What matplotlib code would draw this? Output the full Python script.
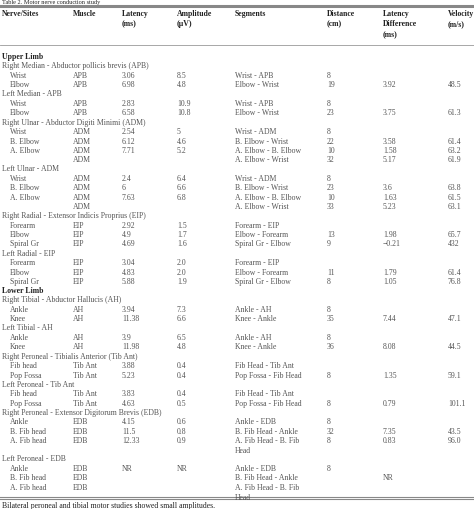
import matplotlib.pyplot as plt

# table contents, one entry per printed line
# (kind, site, muscle, latency, amplitude, segment, distance, lat_diff, velocity)
rows = [
    ("limb", "Upper Limb"),
    ("nerve", "Right Median - Abductor pollicis brevis (APB)"),
    ("site", "Wrist", "APB", "3.06", "8.5", "Wrist - APB", "8", "", ""),
    ("site", "Elbow", "APB", "6.98", "4.8", "Elbow - Wrist", "19", "3.92", "48.5"),
    ("nerve", "Left Median - APB"),
    ("site", "Wrist", "APB", "2.83", "10.9", "Wrist - APB", "8", "", ""),
    ("site", "Elbow", "APB", "6.58", "10.8", "Elbow - Wrist", "23", "3.75", "61.3"),
    ("nerve", "Right Ulnar - Abductor Digiti Minimi (ADM)"),
    ("site", "Wrist", "ADM", "2.54", "5", "Wrist - ADM", "8", "", ""),
    ("site", "B. Elbow", "ADM", "6.12", "4.6", "B. Elbow - Wrist", "22", "3.58", "61.4"),
    ("site", "A. Elbow", "ADM", "7.71", "5.2", "A. Elbow - B. Elbow", "10", "1.58", "63.2"),
    ("site", "", "ADM", "", "", "A. Elbow - Wrist", "32", "5.17", "61.9"),
    ("nerve", "Left Ulnar - ADM"),
    ("site", "Wrist", "ADM", "2.4", "6.4", "Wrist - ADM", "8", "", ""),
    ("site", "B. Elbow", "ADM", "6", "6.6", "B. Elbow - Wrist", "23", "3.6", "63.8"),
    ("site", "A. Elbow", "ADM", "7.63", "6.8", "A. Elbow - B. Elbow", "10", "1.63", "61.5"),
    ("site", "", "ADM", "", "", "A. Elbow - Wrist", "33", "5.23", "63.1"),
    ("nerve", "Right Radial - Extensor Indicis Proprius (EIP)"),
    ("site", "Forearm", "EIP", "2.92", "1.5", "Forearm - EIP", "", "", ""),
    ("site", "Elbow", "EIP", "4.9", "1.7", "Elbow - Forearm", "13", "1.98", "65.7"),
    ("site", "Spiral Gr", "EIP", "4.69", "1.6", "Spiral Gr - Elbow", "9", "\u22120.21", "432"),
    ("nerve", "Left Radial - EIP"),
    ("site", "Forearm", "EIP", "3.04", "2.0", "Forearm - EIP", "", "", ""),
    ("site", "Elbow", "EIP", "4.83", "2.0", "Elbow - Forearm", "11", "1.79", "61.4"),
    ("site", "Spiral Gr", "EIP", "5.88", "1.9", "Spiral Gr - Elbow", "8", "1.05", "76.8"),
    ("limb", "Lower Limb"),
    ("nerve", "Right Tibial - Abductor Hallucis (AH)"),
    ("site", "Ankle", "AH", "3.94", "7.3", "Ankle - AH", "8", "", ""),
    ("site", "Knee", "AH", "11.38", "6.6", "Knee - Ankle", "35", "7.44", "47.1"),
    ("nerve", "Left Tibial - AH"),
    ("site", "Ankle", "AH", "3.9", "6.5", "Ankle - AH", "8", "", ""),
    ("site", "Knee", "AH", "11.98", "4.8", "Knee - Ankle", "36", "8.08", "44.5"),
    ("nerve", "Right Peroneal - Tibialis Anterior (Tib Ant)"),
    ("site", "Fib head", "Tib Ant", "3.88", "0.4", "Fib Head - Tib Ant", "", "", ""),
    ("site", "Pop Fossa", "Tib Ant", "5.23", "0.4", "Pop Fossa - Fib Head", "8", "1.35", "59.1"),
    ("nerve", "Left Peroneal - Tib Ant"),
    ("site", "Fib head", "Tib Ant", "3.83", "0.4", "Fib Head - Tib Ant", "", "", ""),
    ("site", "Pop Fossa", "Tib Ant", "4.63", "0.5", "Pop Fossa - Fib Head", "8", "0.79", "101.1"),
    ("nerve", "Right Peroneal - Extensor Digitorum Brevis (EDB)"),
    ("site", "Ankle", "EDB", "4.15", "0.6", "Ankle - EDB", "8", "", ""),
    ("site", "B. Fib head", "EDB", "11.5", "0.8", "B. Fib Head - Ankle", "32", "7.35", "43.5"),
    ("site", "A. Fib head", "EDB", "12.33", "0.9", "A. Fib Head - B. Fib\nHead", "8", "0.83", "96.0"),
    ("blank", ""),
    ("nerve", "Left Peroneal - EDB"),
    ("site", "Ankle", "EDB", "NR", "NR", "Ankle - EDB", "8", "", ""),
    ("site", "B. Fib head", "EDB", "", "", "B. Fib Head - Ankle", "", "NR", ""),
    ("site", "A. Fib head", "EDB", "", "", "A. Fib Head - B. Fib\nHead", "", "", ""),
]

headers = ["Nerve/Sites", "Muscle", "Latency\n(ms)", "Amplitude\n(\u03bcV)", "Segments",
           "Distance\n(cm)", "Latency\nDifference\n(ms)", "Velocity\n(m/s)"]
footnote = "Bilateral peroneal and tibial motor studies showed small amplitudes."
title = "Table 2. Motor nerve conduction study"

W, H = 474, 510
col_x = [2, 73, 122, 177, 235, 327, 383, 448]
FS = 5.6
GRAY = "#555555"
DARK = "#222222"
plt.rcParams["font.family"] = ["Liberation Serif", "DejaVu Serif"]

fig = plt.figure(figsize=(W / 100, H / 100), dpi=100)
ax = fig.add_axes([0, 0, 1, 1])
ax.set_xlim(0, W)
ax.set_ylim(H, 0)
ax.axis("off")

ax.text(2, 2.5, title, fontsize=4.5, color=DARK, va="center")
ax.plot([0, W], [6.5, 6.5], color="#888888", lw=2.2)
for x, h in zip(col_x, headers):
    ax.text(x, 10, h, fontsize=FS, color=DARK, va="top", fontweight="bold", linespacing=1.4)
ax.plot([0, W], [46, 46], color="#999999", lw=0.6)

y0, step = 57, 9.36
for i, r in enumerate(rows):
    y = y0 + i * step
    kind = r[0]
    if kind == "limb":
        ax.text(col_x[0], y, r[1], fontsize=FS, color=DARK, va="center", fontweight="bold")
    elif kind == "nerve":
        ax.text(col_x[0], y, r[1], fontsize=FS, color=GRAY, va="center")
    elif kind == "site":
        xs = [col_x[0] + 8] + col_x[1:]
        for x, v in zip(xs, r[1:]):
            if v:
                ax.text(x, y - 3.7, v, fontsize=FS, color=GRAY, va="top", linespacing=1.4)

ax.plot([0, W], [497.5, 497.5], color="#888888", lw=0.8)
ax.plot([0, W], [500, 500], color="#888888", lw=0.8)
ax.text(2, 506, footnote, fontsize=FS, color=DARK, va="center")

fig.savefig("out.png", dpi=100)
